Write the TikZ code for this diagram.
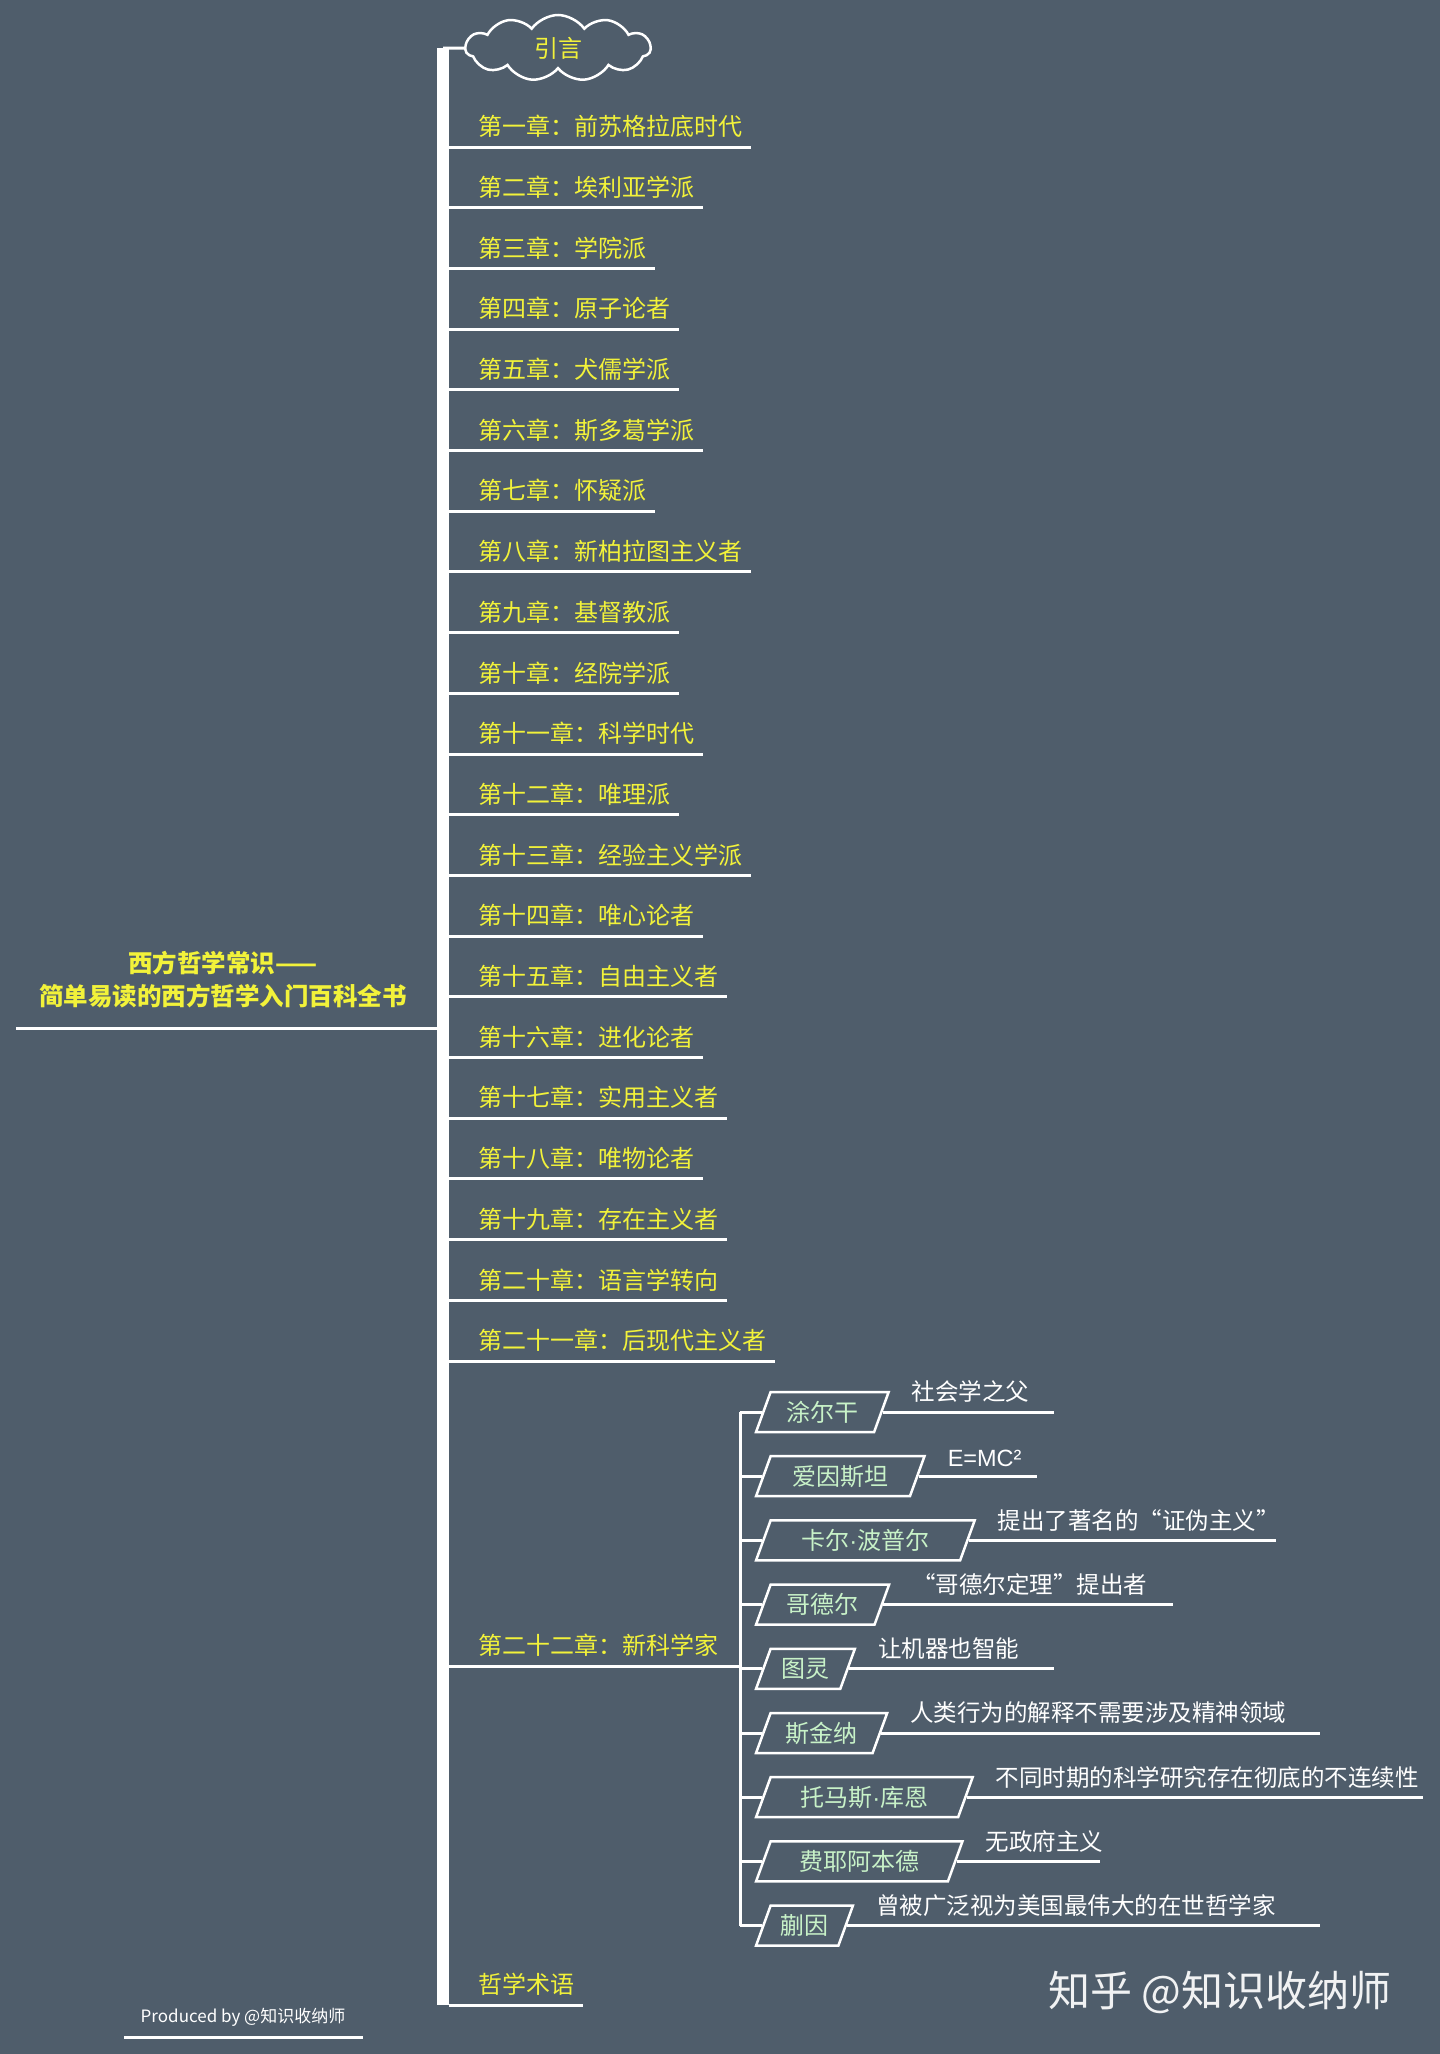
\documentclass[tikz,border=0pt]{standalone}
\usepackage{fontspec}
\setmainfont{Noto Sans CJK SC}
\newfontfamily\latinf{Liberation Sans}
\usetikzlibrary{shapes.symbols,shapes.geometric}
\definecolor{bg}{HTML}{4F5D6B}
\definecolor{yel}{HTML}{F2F23A}
\definecolor{grn}{HTML}{C8F2C8}
\newcommand{\mdot}{{\latinf ·}}
\tikzset{
 trunk/.style={draw=white,line width=12pt},
 br/.style={draw=white,line width=3pt},
 chap/.style={anchor=south west,text=yel,font=\fontsize{24}{28}\selectfont,inner xsep=9pt,inner ysep=9pt},
 sci/.style={trapezium,trapezium left angle=70,trapezium right angle=110,draw=white,line width=2.5pt,text=grn,font=\fontsize{24}{28}\selectfont,minimum height=40pt,inner xsep=-2pt,inner ysep=2pt,anchor=west},
 desc/.style={anchor=south west,text=white,font=\fontsize{23.5}{28}\selectfont,inner sep=3pt},
}
\begin{document}
\begin{tikzpicture}[x=1pt,y=-1pt]
\fill[bg] (0,0) rectangle (1440,2054);
\useasboundingbox (0,0) rectangle (1440,2054);
% title
\node[text=yel,font=\bfseries\fontsize{24.5}{33}\selectfont,align=center] (title) at (223,980) {西方哲学常识——\\简单易读的西方哲学入门百科全书};
\coordinate (tl) at (16,1028);
\coordinate (tr) at (443,1028);
\draw[br] (tl) -- (tr);
% trunk
\coordinate (ttop) at (443,48);
\coordinate (tbot) at (443,2005);
\draw[trunk] (ttop) -- (tbot);
% cloud
\node[cloud,cloud puffs=11,cloud puff arc=110,aspect=2.8,draw=white,line width=2.5pt,minimum width=185pt,minimum height=66pt,text=yel,font=\fontsize{24}{28}\selectfont] (intro) at (558,48) {引言};
\draw[br] (ttop) -- (intro.west);
% chapters
\foreach \t [count=\i] in {第一章：前苏格拉底时代,第二章：埃利亚学派,第三章：学院派,第四章：原子论者,第五章：犬儒学派,第六章：斯多葛学派,第七章：怀疑派,第八章：新柏拉图主义者,第九章：基督教派,第十章：经院学派,第十一章：科学时代,第十二章：唯理派,第十三章：经验主义学派,第十四章：唯心论者,第十五章：自由主义者,第十六章：进化论者,第十七章：实用主义者,第十八章：唯物论者,第十九章：存在主义者,第二十章：语言学转向,第二十一章：后现代主义者}{
 \pgfmathsetmacro{\yy}{147+60.7*(\i-1)}
 \node[chap] (c\i) at (469,\yy) {\t};
 \coordinate (s\i) at (449,\yy);
 \draw[br] (s\i) -- (c\i.south east);
}
\node[chap] (c22) at (469,1666) {第二十二章：新科学家};
\coordinate (s22) at (449,1666);
\coordinate (j22) at (740,1666);
\draw[br] (s22) -- (j22);
\node[chap] (c23) at (469,2005) {哲学术语};
\coordinate (s23) at (449,2005);
\draw[br] (s23) -- (c23.south east);
% scientists
\coordinate (vtop) at (740,1412);
\coordinate (vbot) at (740,1926);
\draw[br] (vtop) -- (vbot);
\foreach \n/\d/\e [count=\i] in {涂尔干/社会学之父/1054,爱因斯坦/{\latinf E=MC²}/1037,卡尔\mdot 波普尔/提出了著名的“证伪主义”/1276,哥德尔/“哥德尔定理”提出者/1173,图灵/让机器也智能/1054,斯金纳/人类行为的解释不需要涉及精神领域/1320,托马斯\mdot 库恩/不同时期的科学研究存在彻底的不连续性/1423,费耶阿本德/无政府主义/1100,蒯因/曾被广泛视为美国最伟大的在世哲学家/1320}{
 \pgfmathsetmacro{\yy}{1412+64.2*(\i-1)}
 \node[sci] (p\i) at (762,\yy) {\n};
 \coordinate (q\i) at (740,\yy);
 \coordinate (e\i) at (\e,\yy);
 \draw[br] (q\i) -- (p\i.west);
 \draw[br] (p\i.east) -- (e\i);
 \node[desc] (d\i) at ([xshift=26pt,yshift=6pt]p\i.east) {\d};
}
% footer
\node[text=white,font=\fontsize{17}{20}\selectfont] (prod) at (243,2017) {Produced by @知识收纳师};
\coordinate (pl) at (124,2037);
\coordinate (pr) at (363,2037);
\draw[br] (pl) -- (pr);
\node[text=white!92!bg,font=\fontsize{42}{48}\selectfont,anchor=west] (wm) at (1045,1992) {知乎 @知识收纳师};
\end{tikzpicture}
\end{document}
